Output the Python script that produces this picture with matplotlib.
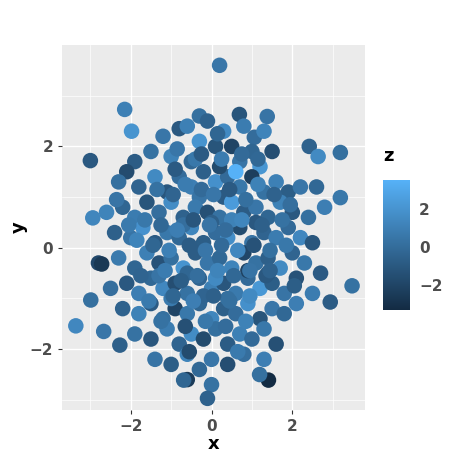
import matplotlib

matplotlib.use("Agg")

import matplotlib.pyplot as plt
from matplotlib.colors import LinearSegmentedColormap, Normalize
from matplotlib.cm import ScalarMappable

# values, row by row (top to bottom)
x = [
    0.2, -2.15, -1.98, -3.0, 2.42, 2.64, 3.19, 0.69, 1.38, 1.06,
    -1.2, -0.8, -0.6, -0.3, -0.1, 0.3, 0.5, 0.8, 1.0, 1.3, 1.5, -1.5, -1.9, -0.3, 0.1, 0.7, -1.0, -0.5, 1.2, -2.1,
    -2.3, -1.8, -1.4, -1.1, -0.8, -0.5, -0.2, 0.1, 0.4, 0.7, 1.0, 1.3, 1.6, 1.9, 2.2, 2.6, -0.3, 0.3,
    -2.6, -2.2, -1.9, -1.6, -1.3, -1.0, -0.7, -0.4, -0.1, 0.2, 0.5, 0.8, 1.1, 1.4, 1.7, 2.0, 2.4, 2.8, 3.19, -2.94,
    -2.4, -2.0, -1.7, -1.4, -1.1, -0.8, -0.5, -0.2, 0.1, 0.4, 0.7, 1.0, 1.3, 1.6, 1.9, 2.2, 2.5,
    -2.8, -2.3, -1.9, -1.6, -1.3, -1.0, -0.7, -0.4, -0.1, 0.2, 0.5, 0.8, 1.1, 1.4, 1.7, 2.0, 2.3, 2.7, -2.72,
    -2.5, -2.1, -1.8, -1.5, -1.2, -0.9, -0.6, -0.3, 0.0, 0.3, 0.6, 0.9, 1.2, 1.5, 1.8, 2.1, 2.5, 3.48,
    -2.2, -1.8, -1.5, -1.2, -0.9, -0.6, -0.3, 0.0, 0.3, 0.6, 0.9, 1.2, 1.5, 1.8, 2.1, 2.94, -2.99,
    -1.9, -1.5, -1.1, -0.8, -0.5, -0.2, 0.1, 0.4, 0.7, 1.0, 1.3, 1.6, -3.36, -2.67, -2.27,
    -1.4, -1.0, -0.6, -0.3, 0.0, 0.4, 0.8, 1.3, -0.6, 0.0, -0.1, -0.69, 1.41, 1.19,
    -0.9, -0.4, 0.2, 0.6, -0.7, 0.0, 0.5, 1.1, -1.3, -0.6, 0.1, 0.9, -1.0, -0.2, 0.4, 1.4,
    # dense core
    -1.35, -0.95, -0.65, -0.25, 0.05, 0.45, 0.85, 1.15, 1.55, -1.65,
    -1.25, -0.85, -0.45, -0.05, 0.35, 0.75, 1.25, 1.75, -2.05, -1.45,
    -1.05, -0.55, -0.15, 0.25, 0.65, 1.05, 1.45, 1.85, -1.75, -1.15,
    -0.75, -0.35, 0.15, 0.55, 0.95, 1.35, -1.55, -0.95, -0.45, 0.05,
    0.45, 0.95, 1.45, -1.25, -0.65, -0.15, 0.35, 0.85, 1.15, -0.85,
    -0.25, 0.25, 0.75, -2.35, 2.05, -1.85, 1.95, -0.55, 0.65, 0.15,
]
y = [
    3.6, 2.73, 2.3, 1.72, 2.0, 1.8, 1.88, 2.63, 2.59, 2.18,
    2.2, 2.35, 2.4, 2.6, 2.5, 2.3, 2.0, 2.4, 1.9, 2.3, 1.9, 1.9, 1.7, 2.1, 2.0, 1.7, 1.8, 1.7, 1.6, 1.5,
    1.3, 1.2, 1.4, 1.1, 1.4, 1.2, 1.5, 1.3, 1.4, 1.2, 1.4, 1.1, 1.3, 1.1, 1.2, 1.2, 1.0, 1.0,
    0.7, 0.8, 0.6, 0.9, 0.7, 0.9, 0.6, 0.8, 0.7, 0.6, 0.9, 0.7, 0.8, 0.6, 0.9, 0.7, 0.6, 0.8, 0.99, 0.59,
    0.3, 0.2, 0.4, 0.1, 0.3, 0.2, 0.4, 0.1, 0.3, 0.2, 0.4, 0.1, 0.3, 0.2, 0.4, 0.2, 0.1,
    -0.3, -0.2, -0.4, -0.1, -0.3, -0.2, -0.4, -0.1, -0.3, -0.2, -0.4, -0.1, -0.3, -0.2, -0.4, -0.1, -0.3, -0.5, -0.32,
    -0.8, -0.7, -0.9, -0.6, -0.8, -0.7, -0.9, -0.6, -0.8, -0.7, -0.9, -0.6, -0.8, -0.7, -0.9, -0.6, -0.9, -0.75,
    -1.2, -1.3, -1.1, -1.4, -1.2, -1.3, -1.1, -1.4, -1.2, -1.3, -1.1, -1.4, -1.2, -1.3, -1.1, -1.07, -1.03,
    -1.7, -1.8, -1.6, -1.9, -1.7, -1.8, -1.6, -1.9, -1.7, -1.8, -1.6, -1.9, -1.54, -1.65, -1.92,
    -2.2, -2.3, -2.1, -2.4, -2.2, -2.3, -2.1, -2.2, -2.6, -2.7, -2.97, -2.61, -2.61, -2.5,
    1.55, 1.75, 1.6, 1.5, 0.45, 0.5, 0.55, 0.5, -0.55, -0.5, -0.6, -0.45, -1.0, -0.95, -1.0, -0.5,
    1.15, 1.05, 1.25, 1.15, 1.05, 1.15, 0.95, 1.25, 1.05, 0.55,
    0.45, 0.35, 0.55, 0.45, 0.35, 0.55, 0.45, 0.55, 0.45, 0.05,
    -0.05, 0.05, -0.05, 0.05, -0.05, 0.05, -0.05, 0.05, -0.55, -0.45,
    -0.65, -0.55, -0.45, -0.55, -0.45, -0.55, -1.05, -0.95, -1.05, -0.95,
    -1.05, -0.95, -0.45, -1.45, -1.55, -1.45, -1.55, -1.45, 1.75, 1.95,
    1.85, 1.75, 1.85, 0.95, -0.75, 0.15, 0.85, -2.05, -2.05, 2.25,
]
z = [
    0.5, 1.0, 2.0, -1.0, -0.5, 1.5, 0.2, -1.2, 0.4, 0.0,
    0.5, -1.0, 1.0, 0.2, -0.5, 1.5, -2.0, 0.8, -0.3, 1.2, -1.5, 0.3, -0.8, 2.0, -1.2, 0.4, 1.1, -0.2, 2.1, -1.6,
    0.2, -0.4, 1.5, -1.1, 0.0, 0.9, -0.6, 1.8, -0.1, 0.6, -2.3, 0.3, 1.0, -0.7, 0.5, -0.2, 0.4, -0.9,
    1.2, -0.3, 0.8, -1.2, 0.1, 1.6, -0.5, 0.7, -1.4, 0.3, 2.4, -0.8, 0.5, -0.3, 1.1, -1.0, 0.2, 0.9, 0.6, 1.3,
    -0.6, 0.4, 1.9, -0.9, 0.6, -0.2, 1.3, -0.7, 0.0, 1.7, -1.6, 0.4, -0.4, 0.8, -0.1, 1.4, -1.1,
    -1.8, 0.7, -0.3, 1.0, -1.3, 0.2, 2.0, -0.8, 0.5, -0.2, 1.2, -1.9, 0.3, -0.6, 1.5, -0.4, 0.6, -0.9, -2.6,
    0.1, -1.0, 0.9, -0.2, 1.4, -1.5, 0.3, -0.4, 1.0, -1.1, 0.7, -0.1, 2.2, -0.7, 0.4, -1.3, 0.8, 0.3,
    -0.5, 1.1, -0.9, 0.2, -2.0, 0.6, -0.3, 1.3, -0.6, 0.0, 1.8, -1.2, 0.5, -0.2, 0.9, -0.8, 0.2,
    0.3, -1.1, 0.8, -0.4, 1.6, -1.7, 0.2, -0.8, 1.0, -0.1, 0.6, -1.4, 1.4, 0.5, -0.6,
    0.4, -0.7, 1.2, -0.2, 0.5, -1.5, 0.1, 0.9, -2.5, 0.3, -0.5, -0.3, -3.3, 0.2,
    -0.9, 0.6, -1.7, 3.5, 0.1, -0.6, 1.1, -1.0, 0.4, -0.3, 1.5, -2.1, 0.7, -0.4, 0.2, -1.2,
    0.3, -0.4, 0.8, -0.1, 0.5, -0.9, 0.2, 1.1, -0.5, 0.6,
    -0.2, 0.9, -1.1, 0.4, 0.0, 1.3, -0.6, 0.3, 0.7, -0.3,
    1.0, -0.8, 0.5, -0.1, 1.4, -1.3, 0.2, 0.6, -0.4, 0.8,
    -0.7, 0.1, 1.2, -0.2, 0.4, -1.0, 0.7, -0.3, 0.9, -0.6,
    0.2, 1.5, -0.5, 0.3, -1.4, 0.6, 0.0, 1.1, -0.2, 0.5,
    -0.9, 0.8, -0.1, 0.4, -0.7, 1.2, 0.1, -1.6, 0.7, -0.3,
]

GRADIENT = LinearSegmentedColormap.from_list("gg", ["#132B43", "#56B1F7"])

fig = plt.figure(figsize=(4.74, 4.74), dpi=100)
ax = fig.add_axes([0.131, 0.135, 0.639, 0.77])
ax.set_facecolor("#EBEBEB")
norm = Normalize(vmin=min(z), vmax=max(z))
ax.scatter(x, y, c=z, cmap=GRADIENT, norm=norm, s=125, linewidths=0, zorder=3)

ax.set_xlim(-3.7, 3.8)
ax.set_ylim(-3.2, 4.0)
ax.set_xticks([-2, 0, 2])
ax.set_yticks([-2, 0, 2])
ax.set_xticks([-3, -1, 1, 3], minor=True)
ax.set_yticks([-3, -1, 1, 3], minor=True)
ax.grid(True, which="major", color="white", linewidth=1.0, zorder=0)
ax.grid(True, which="minor", color="white", linewidth=0.5, zorder=0)
ax.set_axisbelow(True)
for spine in ax.spines.values():
    spine.set_visible(False)
ax.tick_params(which="major", length=3, color="#333333", labelsize=11, labelcolor="#4D4D4D")
ax.tick_params(which="minor", length=0)
for label in ax.get_xticklabels() + ax.get_yticklabels():
    label.set_fontweight("bold")
ax.set_xlabel("x", fontsize=13, fontweight="bold", labelpad=1)
ax.set_ylabel("y", fontsize=13, fontweight="bold", labelpad=1)

cax = fig.add_axes([0.808, 0.346, 0.057, 0.274])
cbar = fig.colorbar(ScalarMappable(norm=norm, cmap=GRADIENT), cax=cax, ticks=[-2, 0, 2])
cbar.outline.set_visible(False)
cbar.ax.tick_params(length=3, color="white", labelsize=11, labelcolor="#4D4D4D")
for label in cbar.ax.get_yticklabels():
    label.set_fontweight("bold")
fig.text(0.808, 0.66, "z", fontsize=13, fontweight="bold")

fig.savefig("out.png", dpi=100)
